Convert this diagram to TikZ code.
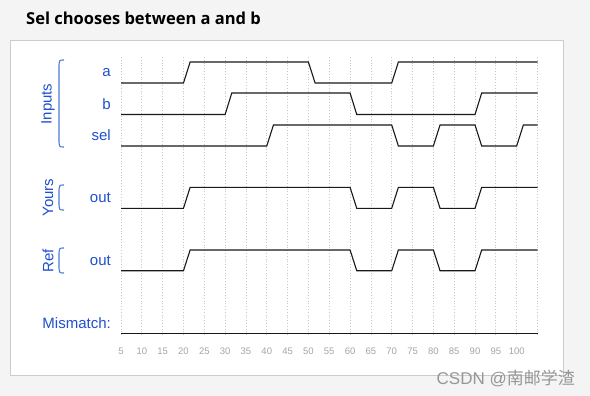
\documentclass[tikz,border=0pt]{standalone}
\usepackage{fontspec}
\setmainfont{Liberation Sans}
\newfontfamily\titlefont{Open Sans}
\newfontfamily\cjkfont{Noto Sans CJK SC}
\usepackage{xcolor}

\definecolor{labelblue}{RGB}{32,80,208}
\definecolor{bracketblue}{RGB}{74,122,214}
\definecolor{gridgray}{RGB}{200,200,200}
\definecolor{tickgray}{RGB}{165,165,165}
\definecolor{pagegray}{RGB}{244,244,244}
\definecolor{panelborder}{RGB}{204,204,204}
\definecolor{markgray}{RGB}{150,150,150}

\begin{document}
\begin{tikzpicture}[
        x=1pt, y=-1pt,
        declare function={
            tx(\t) = 121 + (\t - 5)*4.165;
            R=1.6;
        },
        sig/.style={line width=1.1pt, black!90},
        lbl/.style={text=labelblue, font=\fontsize{15}{17}\selectfont, inner sep=0pt},
        grp/.style={lbl, rotate=90},
        brk/.style={bracketblue, line width=1.1pt},
        gridline/.style={gridgray, dotted, line width=0.8pt},
    ]
        \useasboundingbox (0,0) rectangle (590,396);
        \fill[pagegray] (0,0) rectangle (590,396);
        \filldraw[fill=white, draw=panelborder] (10,40) rectangle (563.5,375);

        \node[anchor=base west, inner sep=0pt, font=\titlefont\bfseries\fontsize{16.5}{19}\selectfont] (title) at (26,25) {Sel chooses between a and b};

        % time grid
        \foreach \t in {5,10,...,105}
            \draw[gridline] ({tx(\t)},57) -- ({tx(\t)},337);
        \foreach \t in {5,10,...,100}
            \node[text=tickgray, font=\fontsize{9.5}{11}\selectfont, inner sep=0pt] (tick\t) at ({tx(\t)},351) {\t};

        % inputs
        \draw[sig] ({tx(5)},83) -- ({tx(20)},83) -- ({tx(20+R)},62) -- ({tx(50)},62) -- ({tx(50+R)},83)
            -- ({tx(70)},83) -- ({tx(70+R)},62) -- ({tx(105)},62);
        \draw[sig] ({tx(5)},114.5) -- ({tx(30)},114.5) -- ({tx(30+R)},93) -- ({tx(60)},93) -- ({tx(60+R)},114.5)
            -- ({tx(90)},114.5) -- ({tx(90+R)},93) -- ({tx(105)},93);
        \draw[sig] ({tx(5)},146) -- ({tx(40)},146) -- ({tx(40+R)},125) -- ({tx(70)},125) -- ({tx(70+R)},146)
            -- ({tx(80)},146) -- ({tx(80+R)},125) -- ({tx(90)},125) -- ({tx(90+R)},146)
            -- ({tx(100)},146) -- ({tx(100+R)},125) -- ({tx(105)},125);

        % yours / ref
        \foreach \hi/\lo in {187.3/208.3, 250/270.7}
            \draw[sig] ({tx(5)},\lo) -- ({tx(20)},\lo) -- ({tx(20+R)},\hi) -- ({tx(60)},\hi) -- ({tx(60+R)},\lo)
                -- ({tx(70)},\lo) -- ({tx(70+R)},\hi) -- ({tx(80)},\hi) -- ({tx(80+R)},\lo)
                -- ({tx(90)},\lo) -- ({tx(90+R)},\hi) -- ({tx(105)},\hi);

        % mismatch
        \draw[sig] ({tx(5)},333.3) -- ({tx(105)},333.3);

        \node[lbl, anchor=east] (la) at (111,72.5) {a};
        \node[lbl, anchor=east] (lb) at (111,104) {b};
        \node[lbl, anchor=east] (lsel) at (111,135.5) {sel};
        \node[lbl, anchor=east] (lyours) at (111,197.5) {out};
        \node[lbl, anchor=east] (lref) at (111,260.5) {out};
        \node[lbl, anchor=east] (lmis) at (111,322.7) {Mismatch:};

        \node[grp] (ginputs) at (48,104) {Inputs};
        \node[grp] (gyours) at (48,197.5) {Yours};
        \node[grp] (gref) at (48,260.5) {Ref};

        \foreach \top/\bot in {60/147, 185/210, 248/273}
            \draw[brk] (64,\top) .. controls (59.5,\top) .. (59,\top+5) -- (59,\bot-5) .. controls (59.5,\bot) .. (64,\bot);

        \node[text=markgray, font=\fontsize{17}{19}\selectfont, inner sep=0pt, anchor=east] (mark) at (575,378) {CSDN @{\cjkfont 南邮学渣}};
    \end{tikzpicture}
\end{document}
